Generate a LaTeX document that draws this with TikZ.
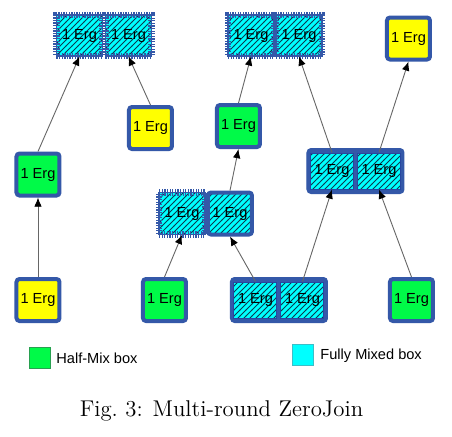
\documentclass[tikz,border=0pt]{standalone}
\usepackage{fontspec}
\newfontfamily\sansf{Liberation Sans}
\usetikzlibrary{arrows.meta,patterns}
\definecolor{eblue}{RGB}{52,88,168}
\definecolor{eblueline}{RGB}{40,70,160}
\definecolor{eyellow}{RGB}{255,255,0}
\definecolor{egreen}{RGB}{0,250,72}
\definecolor{ecyan}{RGB}{0,255,255}
\definecolor{ehatch}{RGB}{10,60,80}
\definecolor{legcyan}{RGB}{60,190,200}
\definecolor{leggreen}{RGB}{40,160,80}
\tikzset{
  ergfont/.style={font=\sansf\fontsize{7.3}{8}\selectfont},
  ebox/.style={draw=eblue, line width=2pt, rounded corners=1.5pt, minimum width=21.5pt, minimum height=21pt, inner sep=0pt, ergfont},
  yelbox/.style={ebox, fill=eyellow},
  grnbox/.style={ebox, fill=egreen},
  cyanbox/.style={ebox, preaction={fill=ecyan}, pattern=north east lines, pattern color=ehatch},
  pairframe/.style={draw=eblue, fill=eblue, line width=0.5pt, rounded corners=2pt, minimum width=48.5pt, minimum height=22.5pt, inner sep=0pt},
  halfbox/.style={draw=eblueline, line width=0.5pt, preaction={fill=ecyan}, pattern=north east lines, pattern color=ehatch, minimum width=21.5pt, minimum height=18pt, inner sep=0pt, ergfont},
  serbox/.style={preaction={fill=ecyan}, pattern=north east lines, pattern color=ehatch, minimum width=23pt, minimum height=20.5pt, inner sep=0pt, ergfont,
    postaction={draw=eblue, line width=3.4pt, dash pattern=on 0.65pt off 0.65pt},
    postaction={draw=eblue, line width=0.8pt}},
  arr/.style={-{Latex[length=4.6pt,width=3.8pt,black]}, line width=0.45pt, draw=black!60},
  legsq/.style={minimum width=10.5pt, minimum height=10.5pt, inner sep=0pt, line width=0.4pt},
  legtext/.style={anchor=west, inner sep=0pt, ergfont}
}
\begin{document}
\begin{tikzpicture}[x=0.5pt,y=-0.5pt]
\useasboundingbox[fill=white] (0,0) rectangle (452,436);
% top row
\node[serbox] (tl1) at (79.5,35.5) {1 Erg};
\node[serbox] (tl2) at (128.5,35.5) {1 Erg};
\node[serbox] (tm1) at (251,35.5) {1 Erg};
\node[serbox] (tm2) at (299,35.5) {1 Erg};
\node[yelbox] (tr) at (408.5,38.5) {1 Erg};
% second row
\node[yelbox] (my) at (150.5,128) {1 Erg};
\node[grnbox] (mg) at (238.5,126) {1 Erg};
\node[grnbox] (lg) at (38,174.5) {1 Erg};
\node[pairframe] (rp) at (355.5,171) {};
\node[halfbox] (rp1) at (332,171) {1 Erg};
\node[halfbox] (rp2) at (379,171) {1 Erg};
% mid pair
\node[cyanbox, minimum width=22pt] (mp2) at (230,213.5) {1 Erg};
\node[serbox, minimum height=21pt] (mp1) at (182,213.5) {1 Erg};
% bottom row
\node[yelbox] (by) at (38,300) {1 Erg};
\node[grnbox] (bg) at (164.5,300) {1 Erg};
\node[pairframe] (bp) at (279,300) {};
\node[halfbox] (bp1) at (255.5,300) {1 Erg};
\node[halfbox] (bp2) at (302.5,300) {1 Erg};
\node[grnbox] (bg2) at (411.5,300) {1 Erg};
% arrows
\draw[arr] (by.north) -- (lg.south);
\draw[arr] (lg.north) -- (tl1.south);
\draw[arr] (my.north) -- (tl2.south);
\draw[arr] (bg.north) -- (mp1.south);
\draw[arr] (bp1.north) -- (mp2.south);
\draw[arr] (bp2.north) -- (rp1.south);
\draw[arr] (bg2.north) -- (rp2.south);
\draw[arr] (mp2.north) -- (mg.south);
\draw[arr] (mg.north) -- (tm1.south);
\draw[arr] (rp1.north) -- (tm2.south);
\draw[arr] (rp2.north) -- (tr.south);
% legend
\node[legsq, fill=egreen, draw=leggreen] (lgg) at (39.5,357.5) {};
\node[legtext] (lggt) at (56,358) {Half-Mix box};
\node[legsq, fill=ecyan, draw=legcyan] (lgc) at (302.5,355) {};
\node[legtext] (lgct) at (320,355.5) {Fully Mixed box};
% caption
\node[font=\fontsize{11.4}{14}\selectfont] (cap) at (221.5,411) {Fig.~3: Multi-round ZeroJoin};
\end{tikzpicture}
\end{document}
